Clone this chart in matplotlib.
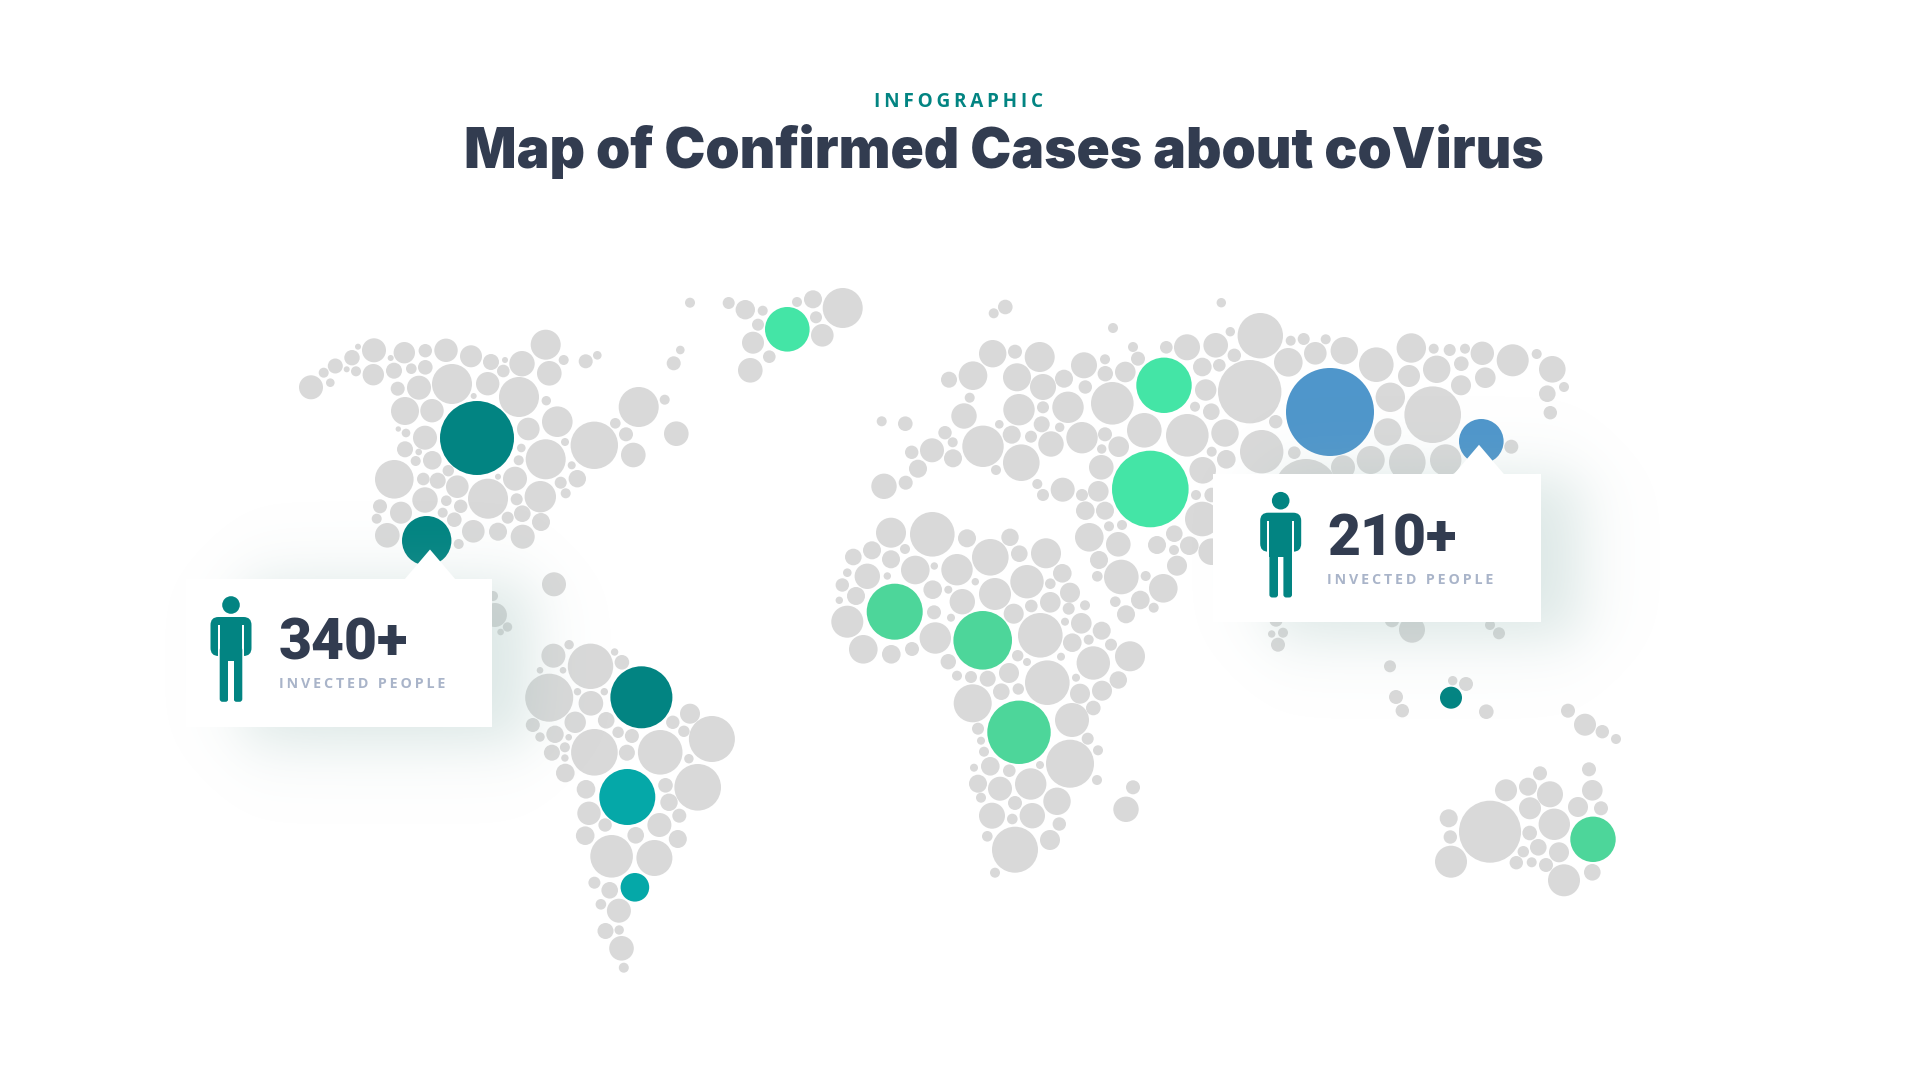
import matplotlib
matplotlib.use("Agg")
import matplotlib.pyplot as plt
import numpy as np
from matplotlib.collections import PatchCollection
from matplotlib.patches import Circle, FancyBboxPatch, Polygon, Rectangle

# Bubbles per region: (x, y, radius)
north_america = [
    (311, 387.3, 12), (323.7, 372.7, 5), (330.3, 382.7, 4.3), (335.3, 366, 7.5), (346.7, 369.3, 3),
    (352, 357.7, 7.7), (356, 371.3, 5), (358, 346.7, 3), (374, 350.3, 12), (373.3, 374.7, 10.7),
    (390.7, 358, 3), (394, 370.7, 8), (404.3, 352.7, 10.7), (411.3, 368.7, 5.3), (425.3, 350.7, 6.7),
    (425.3, 367.3, 7.3), (446, 350.3, 11.7), (397.7, 388.7, 7), (419, 387.7, 12), (452, 384, 20),
    (471, 356.3, 11), (491, 362, 8), (505, 360, 3), (503.3, 371, 6.3), (487.7, 383.7, 11.7),
    (522, 363.7, 12.7), (545.7, 344.7, 15), (563.7, 360, 5), (549.3, 373.3, 12.3), (519, 397, 20),
    (473.7, 396, 3), (546.3, 400.7, 4.7), (405, 411, 14), (432, 410.7, 11.7), (398.3, 429, 2.7),
    (406, 433, 4.3), (425, 437.7, 12), (528.3, 429, 11.3), (557.3, 421.7, 15.3), (405, 449.3, 8),
    (418.7, 452, 3.3), (415.7, 461, 5), (432.3, 460.3, 9.3), (521.3, 448, 4.3), (518.7, 460.3, 5),
    (545.7, 459.3, 20), (565, 442, 4), (594.3, 445.3, 23.7), (615.3, 423.3, 5.3), (626, 434.3, 7),
    (633.3, 455, 12.3), (638.7, 407, 20), (664.7, 399.7, 5), (676.3, 433.7, 12.3), (585.7, 361.3, 7),
    (597.3, 355.3, 4.3), (673.7, 363.3, 7), (680.3, 350, 4.3), (690, 302.7, 5), (571.7, 465.3, 4),
    (577.3, 478.7, 8.7), (560.7, 482.7, 6), (565.7, 493.3, 5), (394.3, 479.3, 19.3), (448.3, 470.7, 5.7),
    (423.3, 479, 6.3), (437.7, 480.7, 8), (457.3, 486.7, 11.3), (498, 476.7, 3), (515, 478.7, 12),
    (488, 498.7, 20), (540.3, 496.7, 15.7), (516.7, 499.3, 6), (425, 500, 12.7), (446.3, 500.7, 5.3),
    (460.7, 506.3, 6.7), (380, 506.3, 7), (401, 512.7, 11), (376.7, 518.7, 5), (442.7, 512.7, 5),
    (454.3, 519.7, 7.3), (507.7, 517.7, 6), (522.3, 513.7, 8.3), (541, 522, 9), (387.3, 535.3, 12.3),
    (473.3, 531.3, 11.3), (498, 531.7, 9), (522.7, 536.7, 12), (458.7, 544, 5), (554, 584.3, 12),
    (493, 596, 5), (494.9, 615, 12), (507.5, 627, 4.7), (500.6, 632, 3.3),
]
south_america = [
    (553.4, 655.7, 12), (569.1, 644.7, 4.7), (590.5, 666.3, 22.7), (614.6, 652, 3.7), (621.9, 662.3, 7.3),
    (549.2, 697.7, 24), (540, 670.3, 3.3), (563, 670.3, 3.3), (577.5, 691.7, 3.7), (590.9, 703.3, 12.3),
    (604.3, 691.7, 3.7), (690, 713.7, 10), (672.8, 722.3, 6.7), (606.2, 720.3, 8.3), (575.2, 722.3, 10.7),
    (532.8, 725, 7), (555, 734.3, 8.7), (540, 737, 4.7), (568.7, 737.3, 3.3), (618.1, 732.3, 5.7),
    (631.9, 736, 7), (683.9, 731.3, 5.7), (711.9, 739, 23), (594.4, 752.3, 23.3), (660.2, 752.3, 22.3),
    (626.9, 752.7, 8), (551.9, 752.7, 8), (564.9, 747.3, 5), (564.9, 758, 3.7), (688.9, 758.7, 4.7),
    (565.3, 773, 9.3), (586, 789.3, 9.3), (665.5, 785.3, 7.3), (697.7, 787.3, 23.3), (669, 802.3, 8.7),
    (589, 813.3, 11.7), (679.3, 815.7, 7), (605.1, 825, 6.7), (659.4, 825, 12), (585.2, 835.7, 9.3),
    (635.7, 835.3, 8.3), (677.8, 839, 9), (611.6, 856.3, 21.3), (654.4, 858, 18), (594.4, 882.7, 6),
    (609.7, 890.3, 8.3), (600.9, 904.3, 5.3), (618.9, 910.7, 12), (605.5, 931, 8), (619.2, 930, 4.7),
    (621.5, 948.3, 12.3), (623.8, 967.7, 5),
]
greenland = [
    (728.7, 303, 6), (745.3, 309.7, 9.7), (762.7, 310.7, 5), (758, 324.7, 6), (753, 342.7, 11),
    (769.3, 356.7, 6.3), (750.3, 370.3, 12.3), (797, 302, 5), (813, 299.3, 9), (816, 317.3, 6),
    (822.3, 335.3, 11.3), (842.7, 308, 20),
]
eurasia = [
    (1005.3, 307, 7.3), (993.7, 313.3, 5), (1221.3, 302.7, 4.7), (1113, 328, 5), (992.7, 353.7, 13.7),
    (1015, 351.7, 7), (1039.7, 357, 15), (1133, 347, 5), (1166.3, 347.3, 6.3), (1187, 347.3, 13),
    (1215.7, 345.3, 12.3), (1230.3, 331.7, 4.7), (1260.3, 335.7, 22.7), (1290.7, 340.7, 5), (1303.7, 339, 6),
    (1234.3, 355.3, 6.7), (1288.3, 362.3, 14.3), (1084, 365.3, 13), (1105, 359.3, 5), (1138, 358.7, 7),
    (1105.3, 373.7, 7.7), (1125.3, 372, 10.3), (1202.3, 367, 9.3), (1219.3, 365.3, 6.3), (1249.7, 391.7, 31.7),
    (949, 379.7, 8), (973, 375.7, 14.3), (1017, 377.3, 14), (1043, 387, 13), (1064, 378.7, 9),
    (1085.3, 387, 6.7), (1112.3, 403.3, 21.3), (1205.7, 390, 10.7), (1195, 406.7, 5), (1211.3, 411.7, 8.3),
    (969.7, 397.7, 5), (964, 416, 12.7), (1019, 409.7, 15.7), (1043, 407.3, 6), (1068, 407.3, 15.7),
    (1041.7, 424.3, 8), (999.3, 424.3, 4.3), (1059.7, 427.3, 4.7), (881.7, 421.3, 5), (905.3, 423.7, 7.3),
    (945, 432.7, 6.7), (952.7, 442.3, 5), (983, 446.3, 20.7), (1011.7, 434.7, 9), (1031, 436.7, 6),
    (1051, 444, 12.7), (1082, 437.7, 15.7), (1105, 434.3, 7), (1144.3, 430.3, 17.3), (1187.3, 435.3, 21.3),
    (1225, 433, 13.7), (1275.7, 421.7, 6.7), (1294.3, 452.7, 6.3), (1261.7, 451.7, 21.7), (1211.7, 451.7, 5),
    (1226.3, 459.3, 9.3), (1202.7, 470.3, 13.3), (1118.7, 446.7, 10.3), (1101.7, 449, 4.7), (1101.3, 467.3, 12.3),
    (911.7, 452.3, 6.7), (932, 450.3, 12), (953, 458.3, 9), (918, 468.7, 9), (1021.3, 462.7, 18.3),
    (996, 470, 5), (884, 486.3, 12.7), (905.7, 482.7, 7), (1037.3, 484, 5), (1043, 495, 6),
    (1062.7, 489.7, 12), (1082, 495, 6), (1098.3, 491.3, 10.3), (1085.3, 510.7, 9.3), (1105, 510.7, 9),
    (1109, 526.3, 5), (1122, 525, 5), (1089.3, 537.3, 14.3), (1118.3, 544.3, 12.3), (1196, 495, 5),
    (1202.3, 519, 17.3), (1174.3, 533.7, 8.3), (1157, 545, 9), (1174, 550, 5), (1189.3, 545.7, 9.3),
    (1211.7, 551.7, 13.3), (1177, 565.7, 10), (1163.3, 588.3, 14.3), (1145.7, 576, 5), (1121.3, 577, 17.3),
    (1099, 560, 9), (1097.3, 576.3, 5.3), (1140.3, 600, 9.3), (1115.3, 601.7, 5.3), (1153.7, 607.7, 5),
    (1126, 614.3, 9), (1211.7, 495, 7.3), (1325.7, 339.3, 5), (1315.3, 353.3, 11.3), (1344.3, 350.7, 13.7),
    (1376.3, 364.7, 17.3), (1411.3, 348, 14.7), (1433.7, 348.7, 5), (1449.7, 350, 6), (1465, 348.7, 5),
    (1482.3, 353.3, 11.7), (1512.7, 360.3, 16), (1536.7, 354, 5), (1552.3, 369.3, 13.3), (1409, 376, 11),
    (1436.7, 369.3, 13.7), (1461.3, 363.7, 7.3), (1485.3, 377.7, 10.3), (1461, 385.3, 10), (1547.3, 393.7, 8.3),
    (1564, 387, 5), (1550.3, 412.7, 6.7), (1390.3, 397.3, 14.7), (1432.7, 414.7, 28.3), (1387.7, 432, 13.7),
    (1511.3, 446.7, 7), (1306, 491, 32), (1343, 467.3, 12), (1370.7, 460, 14), (1407.3, 462.3, 18.3),
    (1445.7, 460, 15.7), (1232, 488, 14), (1276, 620, 6.7), (1271.7, 634, 3.7), (1283, 632.7, 5),
    (1278, 644.7, 7), (1392, 620, 7.3), (1412, 629.7, 13), (1490, 625, 5), (1499, 633.3, 6),
]
africa = [
    (932.3, 534.3, 22.3), (891, 532.7, 15), (967, 538.3, 9), (1010, 537.3, 8.7), (872, 550.3, 9),
    (905, 549, 5), (853.3, 557, 8.3), (891, 559.3, 9), (990.3, 557.3, 18.3), (1019.3, 553.7, 8.3),
    (1046, 553.3, 15), (915.3, 570, 14.3), (867.3, 576.3, 12.7), (847.3, 572.7, 4.3), (934.3, 566, 3.7),
    (887.3, 576, 3.7), (957, 569.7, 15.7), (1027, 581.7, 16.7), (1062.3, 573.3, 9.3), (975.3, 581.7, 3.7),
    (842.3, 585, 6.7), (932.7, 589.7, 9.3), (948.3, 589.7, 4), (995, 594, 16), (1050.3, 583.7, 5.3),
    (1070, 592.7, 10), (856, 596, 9), (839.3, 600.3, 3.7), (962.3, 601.7, 12.7), (1050.3, 602.3, 10.3),
    (1031.3, 606, 6.3), (1068.7, 608.7, 6), (1085, 605.3, 5), (934, 612.3, 7), (951, 617.7, 4),
    (1013.7, 613.7, 10), (1065, 621.7, 4), (1081.3, 623.3, 10.3), (847.3, 621.7, 16), (1040.3, 635.3, 22.3),
    (935.3, 638, 15.7), (1101.7, 630.7, 9), (1072.3, 642.7, 9.3), (1088.7, 639.7, 5), (1111, 644.7, 6),
    (863.3, 649.3, 14.3), (891.3, 654.3, 9.3), (912, 649, 7), (1017.7, 655.7, 5.7), (1027, 662, 4),
    (1061, 656.7, 4), (1093.3, 663, 16.7), (1130, 656.3, 15), (948.3, 661.7, 7.7), (1009, 673, 10),
    (1047.3, 682.7, 22.3), (957, 675.7, 5), (971, 677, 6), (987.7, 678.7, 8), (1076, 677.7, 4),
    (1118.3, 680, 8.7), (1102, 690.7, 10), (1001.3, 691.7, 8.3), (1018.3, 689, 5.7), (1080, 693.7, 10),
    (972.7, 703.3, 19), (1093.3, 708, 7.3), (1072, 720, 17), (978, 728.7, 6), (981, 740.7, 4),
    (1087.7, 738.7, 6), (984, 751.7, 5), (1098, 750.3, 5), (1070, 763.7, 24), (1040, 765, 4),
    (990.3, 766.3, 9.3), (1009.3, 770.7, 6.3), (974, 767.7, 4), (978, 783.7, 9), (1000, 788.7, 12),
    (1030.7, 784, 15.7), (1097, 780, 5), (1133, 787.3, 7), (981, 797.7, 5), (1015, 803, 7),
    (1057, 801.3, 13.7), (1126, 809.3, 12.7), (992, 815.7, 13), (1032.3, 815.7, 12.7), (1012.3, 819, 5.3),
    (1059.3, 824, 6.7), (987.3, 836.3, 5.3), (1050, 840, 10), (1015, 849.7, 23), (995, 872.7, 5),
]
oceania = [
    (1390, 666.3, 6), (1452.7, 680.7, 4.7), (1466, 684, 7), (1396, 697, 7), (1402.3, 710.7, 6.7),
    (1486.3, 711.7, 7.3), (1568, 710.7, 7), (1585, 724.7, 11), (1602.3, 731.7, 6.7), (1616, 739, 5),
    (1589, 769.3, 7), (1540, 773.3, 7), (1506, 790.3, 11), (1528, 786.7, 9), (1550, 794.3, 13),
    (1592.3, 790.3, 10.3), (1530, 808.3, 11), (1578, 807, 10), (1601, 808.3, 7), (1448.7, 818.3, 9),
    (1490, 831.7, 31), (1554.3, 824.3, 15.7), (1450.3, 837, 6.7), (1529.7, 833, 7.3), (1538.3, 847.3, 8.3),
    (1523.3, 851.7, 5.7), (1559, 852.3, 10), (1451, 861.7, 16), (1516.3, 862.7, 6.7), (1531.7, 862.3, 5),
    (1546, 865, 7), (1592.3, 872.3, 8.3), (1564, 880.3, 16),
]

# Highlighted bubbles, one list per colour
dark_teal_cases = [(477, 438, 37), (426.7, 540.7, 24.7), (641.4, 697.3, 31), (1451, 697.7, 11)]
light_teal_cases = [(627.3, 797, 28), (634.9, 887.3, 14.3)]
mint_cases = [(787.3, 329.3, 22.3), (1164, 385.3, 27.7), (1150.3, 489, 38.3)]
green_cases = [(894.7, 611.7, 28), (982.7, 640.3, 29.3), (1019, 732.3, 31.7), (1593, 839.3, 22.7)]
blue_cases = [(1330, 412, 44), (1481.3, 441.3, 22.3)]

GREY = "#d9d9d9"
TEAL = "#028482"
LIGHT_TEAL = "#05a8a8"
MINT = "#44e5a6"
GREEN = "#4dd69a"
BLUE = "#4f96cb"
DARK = "#323c50"
LABEL = "#a9b4c9"


def spaced(text):
    # letter spacing with thin spaces
    return "\u2009".join(text)


def draw_bubbles(ax, bubbles, color, z=2):
    patches = [Circle((x, y), r) for x, y, r in bubbles]
    ax.add_collection(PatchCollection(patches, facecolor=color, edgecolor="none", zorder=z))


def draw_shadow(ax, x0, y0, x1, y1, soft):
    xs = np.arange(x0 - 160, x1 + 160)
    ys = np.arange(y0 - 140, y1 + 140)
    gx = 0.5 * (np.tanh((xs - x0) / soft) - np.tanh((xs - x1) / soft))
    gy = 0.5 * (np.tanh((ys - y0) / soft) - np.tanh((ys - y1) / soft))
    img = np.zeros((len(ys), len(xs), 4))
    img[..., 0], img[..., 1], img[..., 2] = 150 / 255, 185 / 255, 180 / 255
    img[..., 3] = 0.34 * np.outer(gy, gx)
    ax.imshow(img, extent=(xs[0], xs[-1], ys[-1], ys[0]), aspect="auto", zorder=3, interpolation="bilinear")


def draw_person(ax, hx, hy):
    ax.add_patch(Circle((hx, hy), 8.8, facecolor=TEAL, edgecolor="none", zorder=6))
    # shoulders and arms
    ax.add_patch(FancyBboxPatch((hx - 13.5, hy + 19), 27, 25, boxstyle="round,pad=7,rounding_size=8",
                                facecolor=TEAL, edgecolor="none", zorder=6))
    for side in (-1, 1):
        # thin gap between arm and body
        ax.add_patch(Rectangle((hx + side * 12.4 - 1, hy + 20), 2, 33, facecolor="white", edgecolor="none", zorder=7))
        # leg
        ax.add_patch(FancyBboxPatch((hx + side * 7 - 1.5, hy + 45), 3, 49, boxstyle="round,pad=2.8,rounding_size=2.8",
                                    facecolor=TEAL, edgecolor="none", zorder=7))
    ax.add_patch(Rectangle((hx - 11.3, hy + 40), 22.6, 16, facecolor=TEAL, edgecolor="none", zorder=7))
    ax.add_patch(Rectangle((hx - 2.6, hy + 56), 5.2, 45, facecolor="white", edgecolor="none", zorder=7))


def draw_card(ax, x0, y0, x1, y1, apex_x, count, head, text_x, count_y, label_y):
    draw_shadow(ax, x0 + 58, y0 + 2, x1 + 40, y1 + 18, 36)
    ax.add_patch(Rectangle((x0, y0), x1 - x0, y1 - y0, facecolor="white", edgecolor="none", zorder=4))
    ax.add_patch(Polygon([(apex_x - 26, y0 + 1), (apex_x, y0 - 29.5), (apex_x + 26, y0 + 1)],
                         facecolor="white", edgecolor="none", zorder=4))
    draw_person(ax, head[0], head[1])
    ax.text(text_x, count_y, count, color=DARK, fontsize=41, fontweight=900, family="Roboto", va="baseline", zorder=8)
    ax.text(text_x, label_y, spaced("INVECTED PEOPLE"), color=LABEL, fontsize=10.3, fontweight="bold",
            family=["Open Sans", "DejaVu Sans"], va="baseline", zorder=8)


fig = plt.figure(figsize=(19.2, 10.8), dpi=100, facecolor="white")
ax = fig.add_axes([0, 0, 1, 1])

for region in (north_america, south_america, greenland, eurasia, africa, oceania):
    draw_bubbles(ax, region, GREY)
draw_bubbles(ax, dark_teal_cases, TEAL)
draw_bubbles(ax, light_teal_cases, LIGHT_TEAL)
draw_bubbles(ax, mint_cases, MINT)
draw_bubbles(ax, green_cases, GREEN)
draw_bubbles(ax, blue_cases, BLUE)

draw_card(ax, 186, 579, 492, 726.7, 430, "340+", (231, 605), 279, 660, 688)
draw_card(ax, 1213, 474.3, 1541, 621.7, 1479, "210+", (1280.7, 500.7), 1327, 555, 584)

ax.text(959, 106.7, spaced("INFOGRAPHIC"), color=TEAL, fontsize=13.6, fontweight="bold",
        family=["Open Sans", "DejaVu Sans"], ha="center", va="baseline")
ax.text(1003.5, 168, "Map of Confirmed Cases about coVirus", color=DARK, fontsize=39.6, fontweight=900,
        family="Inter", ha="center", va="baseline")

ax.set_xlim(0, 1920)
ax.set_ylim(1080, 0)
ax.axis("off")

fig.savefig("out.png", dpi=100)
